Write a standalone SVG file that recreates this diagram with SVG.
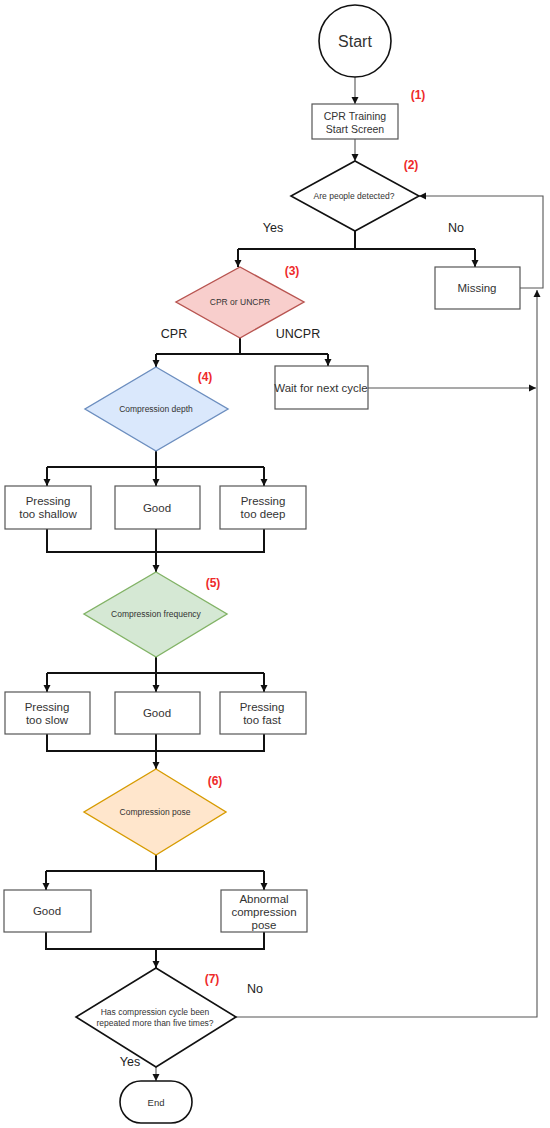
<svg xmlns="http://www.w3.org/2000/svg" width="550" height="1128" viewBox="0 0 550 1128">
<defs>
<marker id="ah" markerWidth="8" markerHeight="8" refX="7" refY="4" orient="auto" markerUnits="userSpaceOnUse">
<path d="M0,0.5 L7,4 L0,7.5 Z" fill="#111"/>
</marker>
<style>
.box{fill:#fff;stroke:#555;stroke-width:1.2}
.dia{stroke-width:1.4}
.t{font-family:"Liberation Sans",Arial,sans-serif;fill:#333;text-anchor:middle}
.bt{font-size:11.5px}
.dt{font-size:8.5px}
.lbl{font-family:"Liberation Sans",Arial,sans-serif;font-size:12.5px;fill:#222;text-anchor:middle}
.red{font-family:"Liberation Sans",Arial,sans-serif;font-size:12px;font-weight:bold;fill:#ee2a2a;text-anchor:middle}
.thick{fill:none;stroke:#111;stroke-width:2}
.thin{fill:none;stroke:#555;stroke-width:1.1}
</style>
</defs>
<rect width="550" height="1128" fill="#fff"/>

<g id="connectors">
<path class="thin" d="M355,77 V104" marker-end="url(#ah)"/>
<path class="thin" d="M355,139 V161" marker-end="url(#ah)"/>
<path class="thick" d="M355,231 V249 M238,249 H475"/>
<path class="thick" d="M238,249 V267" marker-end="url(#ah)"/>
<path class="thick" d="M475,249 V267" marker-end="url(#ah)"/>
<path class="thin" d="M520,288 H543 V196 H419" marker-end="url(#ah)"/>
<path class="thick" d="M240,338 V354 M156,354 H328"/>
<path class="thick" d="M156,354 V367" marker-end="url(#ah)"/>
<path class="thick" d="M328,354 V366" marker-end="url(#ah)"/>
<path class="thin" d="M368,388 H536" marker-end="url(#ah)"/>
<path class="thin" d="M236,1017 H537 V290" marker-end="url(#ah)"/>
<path class="thick" d="M156,451 V467 M47,467 H264"/>
<path class="thick" d="M47,467 V486" marker-end="url(#ah)"/>
<path class="thick" d="M156,467 V486" marker-end="url(#ah)"/>
<path class="thick" d="M264,467 V486" marker-end="url(#ah)"/>
<path class="thick" d="M47,529 V552 H264 V529"/>
<path class="thick" d="M156,529 V572" marker-end="url(#ah)"/>
<path class="thick" d="M156,657 V673 M47,673 H264"/>
<path class="thick" d="M47,673 V692" marker-end="url(#ah)"/>
<path class="thick" d="M156,673 V692" marker-end="url(#ah)"/>
<path class="thick" d="M264,673 V692" marker-end="url(#ah)"/>
<path class="thick" d="M47,734 V751 H264 V734"/>
<path class="thick" d="M156,734 V769" marker-end="url(#ah)"/>
<path class="thick" d="M156,855 V871 M46,871 H264"/>
<path class="thick" d="M46,871 V890" marker-end="url(#ah)"/>
<path class="thick" d="M264,871 V890" marker-end="url(#ah)"/>
<path class="thick" d="M46,932 V949 H264 V932"/>
<path class="thick" d="M156,949 V968" marker-end="url(#ah)"/>
<path class="thin" d="M156,1067 V1081" marker-end="url(#ah)"/>
</g>

<g id="start">
<circle cx="355" cy="41" r="36" fill="#fff" stroke="#111" stroke-width="1.6"/>
<text class="t" x="355" y="47" font-size="16" fill="#222">Start</text>
</g>
<g id="label1"><text class="red" x="418" y="99">(1)</text></g>
<g id="startscreen">
<rect class="box" x="312" y="104" width="86" height="35"/>
<text class="t" x="355" y="120" font-size="10.5">CPR Training</text>
<text class="t" x="355" y="133" font-size="10.5">Start Screen</text>
</g>
<g id="label2"><text class="red" x="411" y="169">(2)</text></g>
<g id="detect">
<polygon points="355,161 419,196 355,231 291,196" fill="#fff" stroke="#111" stroke-width="1.6"/>
<text class="t dt" x="354" y="199">Are people detected?</text>
</g>
<text class="lbl" x="273" y="232">Yes</text>
<text class="lbl" x="456" y="232">No</text>

<g id="missing">
<rect class="box" x="435" y="267" width="85" height="42"/>
<text class="t bt" x="477" y="292">Missing</text>
</g>

<g id="label3"><text class="red" x="292" y="275">(3)</text></g>
<g id="cpr">
<polygon class="dia" points="240,267 304,302 240,338 176,302" fill="#f8cecc" stroke="#b85450"/>
<text class="t dt" x="240" y="305">CPR or UNCPR</text>
</g>
<text class="lbl" x="174" y="338">CPR</text>
<text class="lbl" x="298" y="338">UNCPR</text>

<g id="wait">
<rect class="box" x="275" y="366" width="93" height="43"/>
<text class="t bt" x="321" y="392">Wait for next cycle</text>
</g>

<g id="label4"><text class="red" x="205" y="381">(4)</text></g>
<g id="depth">
<polygon class="dia" points="156,367 228,409 156,451 85,409" fill="#dae8fc" stroke="#6c8ebf"/>
<text class="t dt" x="156" y="412">Compression depth</text>
</g>

<g id="shallow">
<rect class="box" x="5" y="486" width="86" height="43"/>
<text class="t bt" x="48" y="505">Pressing</text>
<text class="t bt" x="48" y="518">too shallow</text>
</g>
<g id="good1">
<rect class="box" x="115" y="486" width="85" height="43"/>
<text class="t bt" x="157" y="512">Good</text>
</g>
<g id="deep">
<rect class="box" x="220" y="486" width="86" height="43"/>
<text class="t bt" x="263" y="505">Pressing</text>
<text class="t bt" x="263" y="518">too deep</text>
</g>

<g id="label5"><text class="red" x="213" y="587">(5)</text></g>
<g id="frequency">
<polygon class="dia" points="156,572 227,614 156,657 84,614" fill="#d5e8d4" stroke="#82b366"/>
<text class="t dt" x="156" y="617">Compression frequency</text>
</g>

<g id="slow">
<rect class="box" x="5" y="692" width="85" height="42"/>
<text class="t bt" x="47" y="711">Pressing</text>
<text class="t bt" x="47" y="724">too slow</text>
</g>
<g id="good2">
<rect class="box" x="115" y="692" width="85" height="42"/>
<text class="t bt" x="157" y="717">Good</text>
</g>
<g id="fast">
<rect class="box" x="220" y="692" width="86" height="42"/>
<text class="t bt" x="262" y="711">Pressing</text>
<text class="t bt" x="262" y="724">too fast</text>
</g>

<g id="label6"><text class="red" x="215" y="785">(6)</text></g>
<g id="pose">
<polygon class="dia" points="156,769 226,812 156,855 84,812" fill="#ffe6cc" stroke="#d79b00"/>
<text class="t dt" x="155" y="815">Compression pose</text>
</g>

<g id="good3">
<rect class="box" x="4" y="890" width="87" height="42"/>
<text class="t bt" x="47" y="915">Good</text>
</g>
<g id="abnormal">
<rect class="box" x="221" y="890" width="86" height="42"/>
<text class="t bt" x="264" y="903">Abnormal</text>
<text class="t bt" x="264" y="916">compression</text>
<text class="t bt" x="264" y="929">pose</text>
</g>

<g id="label7"><text class="red" x="212" y="983">(7)</text></g>
<text class="lbl" x="255" y="993">No</text>
<g id="repeat">
<polygon points="156,968 236,1017 156,1067 76,1017" fill="#fff" stroke="#111" stroke-width="1.6"/>
<text class="t dt" x="155" y="1015">Has compression cycle been</text>
<text class="t dt" x="155" y="1026">repeated more than five times?</text>
</g>
<text class="lbl" x="130" y="1066">Yes</text>

<g id="end">
<rect x="120" y="1081" width="72" height="42" rx="21" ry="21" fill="#fff" stroke="#111" stroke-width="1.6"/>
<text class="t" x="156" y="1106" font-size="9.5">End</text>
</g>
</svg>
